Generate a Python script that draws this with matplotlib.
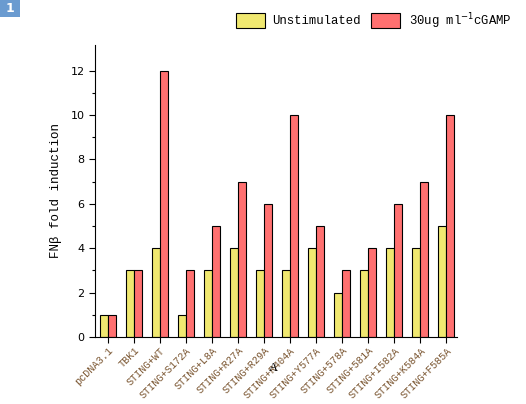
import matplotlib
matplotlib.use("Agg")
import matplotlib.pyplot as plt
import numpy as np
from matplotlib.patches import Rectangle

categories = ["pcDNA3.1", "TBK1", "STING+WT", "STING+S172A", "STING+L8A", "STING+R27A",
              "STING+R29A", "STING+R404A", "STING+Y577A", "STING+578A", "STING+581A",
              "STING+I582A", "STING+K584A", "STING+F585A"]
unstim = [1, 3, 4, 1, 3, 4, 3, 3, 4, 2, 3, 4, 4, 5]
cgamp = [1, 3, 12, 3, 5, 7, 6, 10, 5, 3, 4, 6, 7, 10]
series_names = ["Unstimulated", "30ug ml$^{-1}$cGAMP"]

yellow = "#F0E870"
red = "#FF7070"
colors = [yellow, red]
mono = "Liberation Mono"

W, H = 526, 404
fig = plt.figure(figsize=(W/100, H/100), dpi=100)
ax = fig.add_axes([95/W, 1-337/H, (457-95)/W, (337-45)/H])

x = np.arange(len(categories))
w = 0.31
ax.bar(x - w/2, unstim, w, color=yellow, edgecolor="black", linewidth=0.8, label=series_names[0])
ax.bar(x + w/2, cgamp, w, color=red, edgecolor="black", linewidth=0.8, label=series_names[1])

ax.set_xlim(-0.5, 13.42)
ax.set_ylim(0, 13.15)
ax.set_yticks(range(0, 13, 2))
ax.set_yticks(range(1, 13, 2), minor=True)
ax.tick_params(axis="y", labelsize=8, length=4, width=0.8)
ax.tick_params(axis="y", which="minor", length=2.5, width=0.8)
ax.set_xticks(x)
ax.set_xticklabels(categories, rotation=45, ha="right", rotation_mode="anchor",
                   fontsize=7.3, family=mono, color="#7a5530")
ax.tick_params(axis="x", length=4, width=0.8, pad=2)
ax.spines["top"].set_visible(False)
ax.spines["right"].set_visible(False)
ax.set_ylabel("FNβ fold induction", family=[mono, "DejaVu Sans"], fontsize=9, labelpad=6)

fig.text(273/W, 1-368/H, "A", fontsize=9, family="Liberation Serif", ha="center", va="center")

# legend drawn manually to match placement
patch_x = [236, 371]
text_x = [272, 409]
for px, tx, c, name in zip(patch_x, text_x, colors, series_names):
    fig.patches.append(Rectangle((px/W, 1-28/H), 29/W, 15/H, transform=fig.transFigure,
                                 facecolor=c, edgecolor="black", linewidth=0.8))
    fig.text(tx/W, 1-21/H, name, family=mono, fontsize=8.8, ha="left", va="center")

fig.patches.append(Rectangle((0, 1-17/H), 20/W, 17/H, transform=fig.transFigure,
                             facecolor="#6A9BD0", edgecolor="none"))
fig.text(10/W, 1-8.5/H, "1", color="white", fontsize=9, fontweight="bold",
         ha="center", va="center")

fig.savefig("out.png", dpi=100)
